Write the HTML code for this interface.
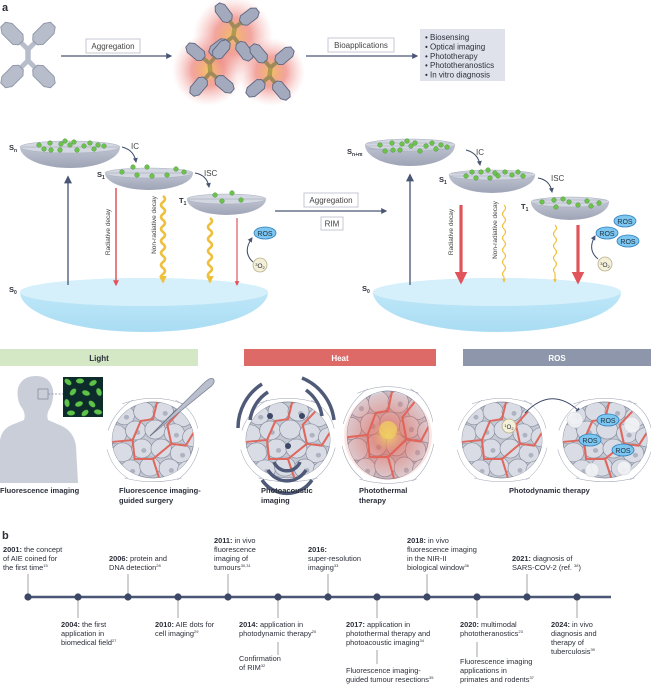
<!DOCTYPE html>
<html><head><meta charset="utf-8"><style>
html,body{margin:0;padding:0;background:#fff}
svg{display:block}
text{font-family:"Liberation Sans",sans-serif;fill:#2b2f3a}
.t{font-size:7.4px}
.b{font-weight:bold}
.lab{font-size:8px;fill:#444}
</style></head><body>
<svg width="651" height="685" viewBox="0 0 651 685" xmlns="http://www.w3.org/2000/svg">
<defs>
<linearGradient id="dish" x1="0" y1="0" x2="0" y2="1"><stop offset="0" stop-color="#c9cdd9"/><stop offset="1" stop-color="#9ea4b6"/></linearGradient>
<linearGradient id="s0" x1="0" y1="0" x2="0" y2="1"><stop offset="0" stop-color="#c6ebfa"/><stop offset="1" stop-color="#a9dcf3"/></linearGradient>
<radialGradient id="glow"><stop offset="0" stop-color="#f3c060" stop-opacity=".95"/><stop offset=".45" stop-color="#ea6a5f" stop-opacity=".6"/><stop offset="1" stop-color="#f0a0a0" stop-opacity="0"/></radialGradient>
<radialGradient id="heat"><stop offset="0" stop-color="#f0d060" stop-opacity=".9"/><stop offset=".35" stop-color="#e06050" stop-opacity=".6"/><stop offset="1" stop-color="#e86a60" stop-opacity=".15"/></radialGradient>
<marker id="mb" viewBox="0 0 10 10" refX="8" refY="5" markerWidth="5" markerHeight="5" orient="auto"><path d="M0,0L10,5L0,10z" fill="#4a5675"/></marker>
<marker id="mr" viewBox="0 0 10 10" refX="8" refY="5" markerWidth="4" markerHeight="4" orient="auto"><path d="M0,0L10,5L0,10z" fill="#e0545a"/></marker>
<marker id="my" viewBox="0 0 10 10" refX="8" refY="5" markerWidth="3" markerHeight="3" orient="auto"><path d="M0,0L10,5L0,10z" fill="#efc03c"/></marker>
<g id="arm"><rect x="-2.2" y="-10" width="4.4" height="10" fill="#b7bdcb"/><path d="M-6.5,-13 L-3,-9 L3,-9 L6.5,-13 L6.5,-27 L3,-32 L-3,-32 L-6.5,-27Z" fill="#b7bdcb" stroke="#8d94a6" stroke-width=".8"/></g>
<g id="mol">
<rect x="-2.5" y="-7" width="5" height="14" fill="#b7bdcb"/>
<g transform="translate(0,-5)"><use href="#arm" transform="rotate(-45)"/><use href="#arm" transform="rotate(45)"/></g>
<g transform="translate(0,5)"><use href="#arm" transform="rotate(-135)"/><use href="#arm" transform="rotate(135)"/></g>
</g>
<g id="armd"><rect x="-2.2" y="-10" width="4.4" height="10" fill="#a08a5a"/><path d="M-6.5,-13 L-3,-9 L3,-9 L6.5,-13 L6.5,-27 L3,-32 L-3,-32 L-6.5,-27Z" fill="#a3aabd" stroke="#5d6580" stroke-width="1"/></g>
<g id="mold">
<rect x="-2.5" y="-7" width="5" height="14" fill="#b09a50"/>
<g transform="translate(0,-5)"><use href="#armd" transform="rotate(-45)"/><use href="#armd" transform="rotate(45)"/></g>
<g transform="translate(0,5)"><use href="#armd" transform="rotate(-135)"/><use href="#armd" transform="rotate(135)"/></g>
</g>
<clipPath id="tc"><circle r="40"/></clipPath>
<g id="tum">
<g stroke="#9aa0ae" stroke-width=".5" fill="none">
<path d="M-44,-10 Q-38,-30 -20,-42 M-45,10 Q-40,30 -25,40 M44,-12 Q40,-32 22,-42 M45,8 Q40,30 24,42 M-30,-38 Q0,-50 30,-38 M-28,40 Q0,48 28,40"/>
</g>
<circle r="40" fill="#c5c9d4" stroke="#7e8597" stroke-width=".7"/>
<g clip-path="url(#tc)" fill="#d9dce4" stroke="#8a90a0" stroke-width=".7">
<circle cx="-28" cy="-26" r="10"/><circle cx="-9" cy="-30" r="10"/><circle cx="10" cy="-30" r="10"/><circle cx="29" cy="-24" r="10"/>
<circle cx="-36" cy="-6" r="10"/><circle cx="-17" cy="-10" r="10"/><circle cx="2" cy="-11" r="10"/><circle cx="21" cy="-7" r="10"/><circle cx="39" cy="-3" r="10"/>
<circle cx="-30" cy="13" r="10"/><circle cx="-11" cy="9" r="10"/><circle cx="8" cy="9" r="10"/><circle cx="27" cy="14" r="10"/>
<circle cx="-22" cy="31" r="10"/><circle cx="-3" cy="28" r="10"/><circle cx="16" cy="30" r="10"/><circle cx="34" cy="32" r="10"/>
</g>
<g clip-path="url(#tc)" fill="#aeb3c1"><circle cx="-26" cy="-24" r="2.5"/><circle cx="12" cy="-28" r="2.5"/><circle cx="-15" cy="-8" r="2.5"/><circle cx="23" cy="-5" r="2.5"/><circle cx="-9" cy="11" r="2.5"/><circle cx="29" cy="16" r="2.5"/><circle cx="-20" cy="33" r="2.5"/><circle cx="18" cy="32" r="2.5"/></g>
<g clip-path="url(#tc)" fill="none" stroke="#e0675d" stroke-width="2">
<path d="M-40,2 L-20,0 L-12,-20 L0,-22 L4,-40 M-20,0 L-18,20 L0,20 L6,40 M0,20 L18,4 L32,6 L40,-8 M18,4 L14,-16 L26,-30"/>
</g>
</g>
</defs>

<text x="2" y="11" class="b" style="font-size:11px">a</text>

<!-- top row -->
<use href="#mol" transform="translate(28,55) scale(1.1)"/>
<rect x="86" y="39" width="54" height="14" fill="#fff" stroke="#c5cad6"/>
<text x="113" y="49" class="lab" text-anchor="middle">Aggregation</text>
<line x1="61" y1="56" x2="171" y2="56" stroke="#4a5675" stroke-width="1.2" marker-end="url(#mb)"/>
<circle cx="233" cy="36" r="40" fill="url(#glow)"/>
<circle cx="208" cy="70" r="36" fill="url(#glow)"/>
<circle cx="271" cy="72" r="34" fill="url(#glow)"/>
<use href="#mold" transform="translate(234,32) rotate(8) scale(.9)"/>
<use href="#mold" transform="translate(210,68) rotate(-5) scale(.9)"/>
<use href="#mold" transform="translate(270,72) rotate(5) scale(.9)"/>
<rect x="328" y="38" width="66" height="14" fill="#fff" stroke="#c5cad6"/>
<text x="361" y="48" class="lab" text-anchor="middle">Bioapplications</text>
<line x1="306" y1="56" x2="417" y2="56" stroke="#4a5675" stroke-width="1.2" marker-end="url(#mb)"/>
<rect x="420" y="29" width="85" height="52" fill="#dfe2ea"/>
<g class="lab" style="font-size:8px;fill:#333">
<text x="425" y="40">• Biosensing</text><text x="425" y="49.5">• Optical imaging</text><text x="425" y="59">• Phototherapy</text><text x="425" y="68">• Phototheranostics</text><text x="425" y="77.5">• In vitro diagnosis</text>
</g>

<!-- left energy diagram -->
<path d="M20,292 A124,40 0 0 0 268,292 A124,14 0 0 0 20,292Z" fill="url(#s0)"/>
<ellipse cx="144" cy="292" rx="124" ry="14" fill="#d6f0fb"/>
<g>
<path d="M20,147 A50,21 0 0 0 120,147 A50,6 0 0 0 20,147Z" fill="url(#dish)"/>
<ellipse cx="70" cy="147" rx="50" ry="6" fill="#d3d7e1" stroke="#a9afbf" stroke-width=".5"/>
<line x1="21" y1="147" x2="119" y2="147" stroke="#9aa0b0" stroke-width=".5"/>
<path d="M105,173 A44,17 0 0 0 193,173 A44,5 0 0 0 105,173Z" fill="url(#dish)"/>
<ellipse cx="149" cy="173" rx="44" ry="5" fill="#d3d7e1" stroke="#a9afbf" stroke-width=".5"/>
<line x1="106" y1="173" x2="192" y2="173" stroke="#9aa0b0" stroke-width=".5"/>
<path d="M187,199 A39.5,16 0 0 0 266,199 A39.5,5 0 0 0 187,199Z" fill="url(#dish)"/>
<ellipse cx="226.5" cy="199" rx="39.5" ry="5" fill="#d3d7e1" stroke="#a9afbf" stroke-width=".5"/>
<line x1="188" y1="199" x2="265" y2="199" stroke="#9aa0b0" stroke-width=".5"/>
</g>
<g fill="#6cc24a" stroke="#3e8a2e" stroke-width=".4">
<circle cx="39" cy="145" r="2.3"/><circle cx="44" cy="149" r="2.3"/><circle cx="50" cy="143" r="2.3"/><circle cx="51" cy="150" r="2.3"/><circle cx="61" cy="144" r="2.3"/><circle cx="65" cy="141" r="2.3"/><circle cx="70" cy="145" r="2.3"/><circle cx="74" cy="142" r="2.3"/><circle cx="77" cy="150" r="2.3"/><circle cx="84" cy="146" r="2.3"/><circle cx="90" cy="143" r="2.3"/><circle cx="94" cy="149" r="2.3"/><circle cx="98" cy="145" r="2.3"/><circle cx="104" cy="146" r="2.3"/><circle cx="60" cy="150" r="2.3"/>
<circle cx="122" cy="172" r="2.3"/><circle cx="133" cy="167" r="2.3"/><circle cx="137" cy="175" r="2.3"/><circle cx="147" cy="167" r="2.3"/><circle cx="152" cy="176" r="2.3"/><circle cx="167" cy="175" r="2.3"/><circle cx="176" cy="169" r="2.3"/><circle cx="184" cy="172" r="2.3"/>
<circle cx="215" cy="195" r="2.3"/><circle cx="222" cy="201" r="2.3"/><circle cx="232" cy="193" r="2.3"/><circle cx="241" cy="200" r="2.3"/>
</g>
<g class="b" style="font-size:7.5px"><text x="9" y="150">S<tspan font-size="5" dy="2">n</tspan></text><text x="97" y="177">S<tspan font-size="5" dy="2">1</tspan></text><text x="179" y="203">T<tspan font-size="5" dy="2">1</tspan></text><text x="9" y="292">S<tspan font-size="5" dy="2">0</tspan></text></g>
<text x="131" y="149" class="lab">IC</text><text x="204" y="176" class="lab">ISC</text>
<path d="M122,147 Q134,150 136,162" fill="none" stroke="#3d4a68" stroke-width="1" marker-end="url(#mb)"/>
<path d="M195,173 Q207,175 209,187" fill="none" stroke="#3d4a68" stroke-width="1" marker-end="url(#mb)"/>
<line x1="68" y1="285" x2="68" y2="177" stroke="#67728e" stroke-width="1.6" marker-end="url(#mb)"/>
<line x1="116" y1="188" x2="116" y2="285" stroke="#e0545a" stroke-width="1.5" marker-end="url(#mr)"/>
<text transform="translate(110,232) rotate(-90)" class="lab" text-anchor="middle" style="font-size:6.5px">Radiative decay</text>
<path d="M163,196 q4,3 0,6 t0,6 t0,6 t0,6 t0,6 t0,6 t0,6 t0,6 t0,6 t0,6 t0,6 t0,6 t0,6 t0,6 L163,282" fill="none" stroke="#efc03c" stroke-width="2.6" marker-end="url(#my)"/>
<text transform="translate(156,225) rotate(-90)" class="lab" text-anchor="middle" style="font-size:6.5px">Non-radiative decay</text>
<path d="M210,218 q4,3 0,6 t0,6 t0,6 t0,6 t0,6 t0,6 t0,6 t0,6 t0,6 t0,6 L210,282" fill="none" stroke="#efc03c" stroke-width="2.6" marker-end="url(#my)"/>
<line x1="237" y1="218" x2="237" y2="285" stroke="#e0545a" stroke-width="1.2" marker-end="url(#mr)"/>
<ellipse cx="265" cy="233" rx="11" ry="6" fill="#7cc6ef" stroke="#2d7fc0" stroke-width=".8"/><text x="265" y="236" class="lab" text-anchor="middle" style="font-size:7px;fill:#234">ROS</text>
<circle cx="260" cy="265" r="7" fill="#f3efd8" stroke="#b8b28a" stroke-width=".8"/><text x="260" y="268" text-anchor="middle" style="font-size:6.5px"><tspan font-size="4" dy="-2">3</tspan><tspan dy="2">O</tspan><tspan font-size="4" dy="1">2</tspan></text>
<path d="M253,262 Q242,252 252,238" fill="none" stroke="#3d4a68" stroke-width="1" marker-end="url(#mb)"/>

<!-- middle arrow -->
<rect x="304" y="193" width="54" height="14" fill="#fff" stroke="#c5cad6"/>
<text x="331" y="203" class="lab" text-anchor="middle">Aggregation</text>
<line x1="275" y1="211" x2="386" y2="211" stroke="#4a5675" stroke-width="1.2" marker-end="url(#mb)"/>
<rect x="321" y="217" width="22" height="13" fill="#fff" stroke="#c5cad6"/>
<text x="332" y="226.5" class="lab" text-anchor="middle">RIM</text>

<!-- right energy diagram -->
<path d="M373,292 A124,40 0 0 0 621,292 A124,14 0 0 0 373,292Z" fill="url(#s0)"/>
<ellipse cx="497" cy="292" rx="124" ry="14" fill="#d6f0fb"/>
<path d="M365,145 A45,21 0 0 0 455,145 A45,6 0 0 0 365,145Z" fill="url(#dish)"/>
<ellipse cx="410" cy="145" rx="45" ry="6" fill="#d3d7e1" stroke="#a9afbf" stroke-width=".5"/>
<g stroke="#9aa0b0" stroke-width=".4"><line x1="367" y1="143" x2="453" y2="143"/><line x1="366" y1="146" x2="454" y2="146"/><line x1="368" y1="149" x2="452" y2="149"/></g>
<path d="M449,175 A43,18 0 0 0 535,175 A43,5 0 0 0 449,175Z" fill="url(#dish)"/>
<ellipse cx="492" cy="175" rx="43" ry="5" fill="#d3d7e1" stroke="#a9afbf" stroke-width=".5"/>
<g stroke="#9aa0b0" stroke-width=".4"><line x1="451" y1="173" x2="533" y2="173"/><line x1="450" y1="176" x2="534" y2="176"/></g>
<path d="M531,202 A39,18 0 0 0 609,202 A39,5 0 0 0 531,202Z" fill="url(#dish)"/>
<ellipse cx="570" cy="202" rx="39" ry="5" fill="#d3d7e1" stroke="#a9afbf" stroke-width=".5"/>
<g stroke="#9aa0b0" stroke-width=".4"><line x1="533" y1="200" x2="607" y2="200"/><line x1="532" y1="203" x2="608" y2="203"/></g>
<g fill="#6cc24a" stroke="#3e8a2e" stroke-width=".4">
<circle cx="380" cy="145" r="2.3"/><circle cx="385" cy="151" r="2.3"/><circle cx="392" cy="143" r="2.3"/><circle cx="393" cy="150" r="2.3"/><circle cx="402" cy="144" r="2.3"/><circle cx="407" cy="141" r="2.3"/><circle cx="411" cy="146" r="2.3"/><circle cx="415" cy="143" r="2.3"/><circle cx="420" cy="151" r="2.3"/><circle cx="426" cy="146" r="2.3"/><circle cx="432" cy="143" r="2.3"/><circle cx="436" cy="149" r="2.3"/><circle cx="441" cy="145" r="2.3"/><circle cx="447" cy="147" r="2.3"/><circle cx="400" cy="150" r="2.3"/>
<circle cx="472" cy="172" r="2.3"/><circle cx="476" cy="178" r="2.3"/><circle cx="481" cy="172" r="2.3"/><circle cx="488" cy="170" r="2.3"/><circle cx="490" cy="178" r="2.3"/><circle cx="495" cy="173" r="2.3"/><circle cx="498" cy="176" r="2.3"/><circle cx="505" cy="172" r="2.3"/><circle cx="512" cy="175" r="2.3"/><circle cx="518" cy="172" r="2.3"/><circle cx="523" cy="176" r="2.3"/><circle cx="466" cy="176" r="2.3"/>
<circle cx="542" cy="202" r="2.3"/><circle cx="554" cy="200" r="2.3"/><circle cx="556" cy="207" r="2.3"/><circle cx="563" cy="199" r="2.3"/><circle cx="569" cy="202" r="2.3"/><circle cx="578" cy="205" r="2.3"/><circle cx="587" cy="201" r="2.3"/><circle cx="591" cy="206" r="2.3"/><circle cx="599" cy="203" r="2.3"/>
</g>
<g class="b" style="font-size:7.5px"><text x="347" y="154">S<tspan font-size="5" dy="2">n+m</tspan></text><text x="439" y="182">S<tspan font-size="5" dy="2">1</tspan></text><text x="521" y="209">T<tspan font-size="5" dy="2">1</tspan></text><text x="362" y="291">S<tspan font-size="5" dy="2">0</tspan></text></g>
<text x="476" y="155" class="lab">IC</text><text x="551" y="181" class="lab">ISC</text>
<path d="M466,150 Q478,153 480,165" fill="none" stroke="#3d4a68" stroke-width="1" marker-end="url(#mb)"/>
<path d="M538,178 Q550,180 552,192" fill="none" stroke="#3d4a68" stroke-width="1" marker-end="url(#mb)"/>
<line x1="410" y1="285" x2="410" y2="175" stroke="#67728e" stroke-width="1.6" marker-end="url(#mb)"/>
<line x1="461" y1="205" x2="461" y2="282" stroke="#e0545a" stroke-width="3.2" marker-end="url(#mr)"/>
<text transform="translate(453,232) rotate(-90)" class="lab" text-anchor="middle" style="font-size:6.5px">Radiative decay</text>
<path d="M504,205 q3,3 0,6 t0,6 t0,6 t0,6 t0,6 t0,6 t0,6 t0,6 t0,6 t0,6 t0,6 t0,6 L504,282" fill="none" stroke="#efc03c" stroke-width="1.2" marker-end="url(#my)"/>
<text transform="translate(497,230) rotate(-90)" class="lab" text-anchor="middle" style="font-size:6.5px">Non-radiative decay</text>
<path d="M555,225 q3,3 0,6 t0,6 t0,6 t0,6 t0,6 t0,6 t0,6 t0,6 L555,282" fill="none" stroke="#efc03c" stroke-width="1.2" marker-end="url(#my)"/>
<line x1="578" y1="225" x2="578" y2="282" stroke="#e0545a" stroke-width="3.2" marker-end="url(#mr)"/>
<g><ellipse cx="625" cy="221" rx="11" ry="6" fill="#7cc6ef" stroke="#2d7fc0" stroke-width=".8"/><text x="625" y="224" class="lab" text-anchor="middle" style="font-size:7px;fill:#234">ROS</text>
<ellipse cx="607" cy="233" rx="11" ry="6" fill="#7cc6ef" stroke="#2d7fc0" stroke-width=".8"/><text x="607" y="236" class="lab" text-anchor="middle" style="font-size:7px;fill:#234">ROS</text>
<ellipse cx="628" cy="241" rx="11" ry="6" fill="#7cc6ef" stroke="#2d7fc0" stroke-width=".8"/><text x="628" y="244" class="lab" text-anchor="middle" style="font-size:7px;fill:#234">ROS</text></g>
<circle cx="605" cy="264" r="7" fill="#f3efd8" stroke="#b8b28a" stroke-width=".8"/><text x="605" y="267" text-anchor="middle" style="font-size:6.5px"><tspan font-size="4" dy="-2">3</tspan><tspan dy="2">O</tspan><tspan font-size="4" dy="1">2</tspan></text>
<path d="M598,259 Q587,250 595,236" fill="none" stroke="#3d4a68" stroke-width="1" marker-end="url(#mb)"/>

<!-- category bars -->
<rect x="0" y="349" width="198" height="17" fill="#d4e8c6"/><text x="99" y="361" text-anchor="middle" class="b" style="font-size:8px">Light</text>
<rect x="244" y="349" width="192" height="17" fill="#de6a68"/><text x="340" y="361" text-anchor="middle" class="b" style="font-size:8px;fill:#fff">Heat</text>
<rect x="463" y="349" width="188" height="17" fill="#8e96ab"/><text x="557" y="361" text-anchor="middle" class="b" style="font-size:8px;fill:#fff">ROS</text>

<!-- person -->
<path d="M0,483 L0,440 Q2,428 14,424 L24,420 Q26,414 22,408 Q16,400 18,388 Q22,376 36,376 Q50,376 53,390 Q54,400 50,408 Q46,414 48,420 L62,426 Q74,432 76,446 L78,483Z" fill="#c9ced9"/>
<rect x="38" y="389" width="10" height="10" fill="none" stroke="#7f8698" stroke-width=".7"/>
<line x1="48" y1="394" x2="63" y2="394" stroke="#7f8698" stroke-width=".7" stroke-dasharray="2 1.5"/>
<rect x="63" y="377" width="40" height="40" fill="#0e2b2b"/>
<g fill="#5fc24a" stroke="#2e7d2a" stroke-width=".4">
<ellipse cx="68" cy="382" rx="4" ry="2.5" transform="rotate(40 68 382)"/><ellipse cx="80" cy="381" rx="4" ry="2.5"/><ellipse cx="93" cy="383" rx="4" ry="2.5" transform="rotate(-30 93 383)"/><ellipse cx="99" cy="392" rx="4" ry="2.5" transform="rotate(70 99 392)"/><ellipse cx="73" cy="392" rx="4" ry="2.5" transform="rotate(-50 73 392)"/><ellipse cx="86" cy="393" rx="4" ry="2.5" transform="rotate(20 86 393)"/><ellipse cx="67" cy="403" rx="4" ry="2.5" transform="rotate(80 67 403)"/><ellipse cx="79" cy="404" rx="4" ry="2.5" transform="rotate(-20 79 404)"/><ellipse cx="92" cy="404" rx="4" ry="2.5" transform="rotate(45 92 404)"/><ellipse cx="71" cy="413" rx="4" ry="2.5"/><ellipse cx="85" cy="413" rx="4" ry="2.5" transform="rotate(-40 85 413)"/><ellipse cx="98" cy="412" rx="4" ry="2.5" transform="rotate(10 98 412)"/>
</g>

<!-- tumours -->
<use href="#tum" transform="translate(153,440) scale(1.02,.95)"/>
<path d="M150,436 L205,382 Q212,376 214,380 Q215,384 209,388 Z" fill="#b9bfcc" stroke="#7d8496" stroke-width=".8"/>
<line x1="150" y1="436" x2="176" y2="410" stroke="#6f7688" stroke-width="1"/>

<use href="#tum" transform="translate(288,440) scale(1.05,.95)"/>
<g fill="none" stroke="#4f5a78" stroke-width="3.5" stroke-linecap="butt">
<path d="M238,428 A52,52 0 0 1 262,384"/><path d="M302,378 A52,52 0 0 1 334,420"/><path d="M250,420 A40,40 0 0 1 268,392"/><path d="M306,390 A40,40 0 0 1 322,416"/>
<path d="M268,470 A22,22 0 0 0 306,470"/><path d="M274,462 A14,14 0 0 0 300,462"/><path d="M262,480 A30,30 0 0 0 312,480"/>
</g>
<circle cx="270" cy="416" r="3" fill="#3d4766"/><circle cx="302" cy="416" r="3" fill="#3d4766"/><circle cx="288" cy="446" r="3" fill="#3d4766"/>

<use href="#tum" transform="translate(388,435) scale(1.02,1.1)"/>
<circle cx="388" cy="436" r="44" fill="url(#heat)"/>
<circle cx="388" cy="430" r="9" fill="#f2d060" opacity=".7"/>

<use href="#tum" transform="translate(502,440) scale(1,.95)"/>
<circle cx="509" cy="426" r="7" fill="#f3efd8" stroke="#b8b28a" stroke-width=".8"/><text x="509" y="429" text-anchor="middle" style="font-size:6px"><tspan font-size="4" dy="-2">1</tspan><tspan dy="2">O</tspan><tspan font-size="4" dy="1">2</tspan></text>
<path d="M525,413 Q552,385 580,412" fill="none" stroke="#3d4a68" stroke-width="1" marker-end="url(#mb)"/>
<use href="#tum" transform="translate(605,440) scale(1.05,.95)"/>
<g fill="#f2f3f6" stroke="#c7cad3" stroke-width=".6" opacity=".9"><circle cx="575" cy="420" r="8"/><circle cx="632" cy="425" r="8"/><circle cx="592" cy="470" r="7"/><circle cx="624" cy="468" r="7"/></g>
<g><ellipse cx="608" cy="420" rx="11" ry="6" fill="#7cc6ef" stroke="#2d7fc0" stroke-width=".8"/><text x="608" y="423" class="lab" text-anchor="middle" style="font-size:7px;fill:#234">ROS</text>
<ellipse cx="590" cy="440" rx="11" ry="6" fill="#7cc6ef" stroke="#2d7fc0" stroke-width=".8"/><text x="590" y="443" class="lab" text-anchor="middle" style="font-size:7px;fill:#234">ROS</text>
<ellipse cx="623" cy="450" rx="11" ry="6" fill="#7cc6ef" stroke="#2d7fc0" stroke-width=".8"/><text x="623" y="453" class="lab" text-anchor="middle" style="font-size:7px;fill:#234">ROS</text></g>

<g class="b" style="font-size:7.5px">
<text x="0" y="493">Fluorescence imaging</text>
<text x="119" y="493">Fluorescence imaging-</text><text x="119" y="503">guided surgery</text>
<text x="261" y="493">Photoacoustic</text><text x="261" y="503">imaging</text>
<text x="359" y="493">Photothermal</text><text x="359" y="503">therapy</text>
<text x="509" y="493">Photodynamic therapy</text>
</g>

<!-- timeline -->
<text x="2" y="539" class="b" style="font-size:11px">b</text>
<line x1="28" y1="597" x2="611" y2="597" stroke="#4a5675" stroke-width="2.4"/>
<g stroke="#666" stroke-width=".6">
<line x1="28" y1="597" x2="28" y2="574"/><line x1="128" y1="597" x2="128" y2="574"/><line x1="228" y1="597" x2="228" y2="574"/><line x1="328" y1="597" x2="328" y2="574"/><line x1="427" y1="597" x2="427" y2="574"/><line x1="527" y1="597" x2="527" y2="574"/>
<line x1="78" y1="597" x2="78" y2="618"/><line x1="178" y1="597" x2="178" y2="618"/><line x1="278" y1="597" x2="278" y2="618"/><line x1="377" y1="597" x2="377" y2="618"/><line x1="477" y1="597" x2="477" y2="618"/><line x1="577" y1="597" x2="577" y2="618"/>
<line x1="278" y1="642" x2="278" y2="655"/><line x1="377" y1="650" x2="377" y2="664"/><line x1="477" y1="642" x2="477" y2="657"/>
</g>
<g fill="#3d4766"><circle cx="28" cy="597" r="3.6"/><circle cx="78" cy="597" r="3.6"/><circle cx="128" cy="597" r="3.6"/><circle cx="178" cy="597" r="3.6"/><circle cx="228" cy="597" r="3.6"/><circle cx="278" cy="597" r="3.6"/><circle cx="328" cy="597" r="3.6"/><circle cx="377" cy="597" r="3.6"/><circle cx="427" cy="597" r="3.6"/><circle cx="477" cy="597" r="3.6"/><circle cx="527" cy="597" r="3.6"/><circle cx="577" cy="597" r="3.6"/></g>
<g class="t">
<text x="3" y="552"><tspan class="b">2001:</tspan> the concept</text><text x="3" y="561">of AIE coined for</text><text x="3" y="570">the first time<tspan font-size="4" dy="-3">15</tspan></text>
<text x="109" y="561"><tspan class="b">2006:</tspan> protein and</text><text x="109" y="570">DNA detection<tspan font-size="4" dy="-3">28</tspan></text>
<text x="214" y="543"><tspan class="b">2011:</tspan> in vivo</text><text x="214" y="552">fluorescence</text><text x="214" y="561">imaging of</text><text x="214" y="570">tumours<tspan font-size="4" dy="-3">30,31</tspan></text>
<text x="308" y="552" class="b">2016:</text><text x="308" y="561">super-resolution</text><text x="308" y="570">imaging<tspan font-size="4" dy="-3">33</tspan></text>
<text x="407" y="543"><tspan class="b">2018:</tspan> in vivo</text><text x="407" y="552">fluorescence imaging</text><text x="407" y="561">in the NIR-II</text><text x="407" y="570">biological window<tspan font-size="4" dy="-3">36</tspan></text>
<text x="512" y="561"><tspan class="b">2021:</tspan> diagnosis of</text><text x="512" y="570">SARS-COV-2 (ref. <tspan font-size="4" dy="-3">38</tspan><tspan dy="3">)</tspan></text>
<text x="61" y="627"><tspan class="b">2004:</tspan> the first</text><text x="61" y="636">application in</text><text x="61" y="645">biomedical field<tspan font-size="4" dy="-3">27</tspan></text>
<text x="155" y="627"><tspan class="b">2010:</tspan> AIE dots for</text><text x="155" y="636">cell imaging<tspan font-size="4" dy="-3">29</tspan></text>
<text x="239" y="627"><tspan class="b">2014:</tspan> application in</text><text x="239" y="636">photodynamic therapy<tspan font-size="4" dy="-3">20</tspan></text>
<text x="239" y="661">Confirmation</text><text x="239" y="670">of RIM<tspan font-size="4" dy="-3">32</tspan></text>
<text x="346" y="627"><tspan class="b">2017:</tspan> application in</text><text x="346" y="636">photothermal therapy and</text><text x="346" y="645">photoacoustic imaging<tspan font-size="4" dy="-3">34</tspan></text>
<text x="346" y="673">Fluorescence imaging-</text><text x="346" y="682">guided tumour resections<tspan font-size="4" dy="-3">35</tspan></text>
<text x="460" y="627"><tspan class="b">2020:</tspan> multimodal</text><text x="460" y="636">phototheranostics<tspan font-size="4" dy="-3">23</tspan></text>
<text x="460" y="664">Fluorescence imaging</text><text x="460" y="673">applications in</text><text x="460" y="682">primates and rodents<tspan font-size="4" dy="-3">37</tspan></text>
<text x="551" y="627"><tspan class="b">2024:</tspan> in vivo</text><text x="551" y="636">diagnosis and</text><text x="551" y="645">therapy of</text><text x="551" y="654">tuberculosis<tspan font-size="4" dy="-3">39</tspan></text>
</g>
</svg>
</body></html>
